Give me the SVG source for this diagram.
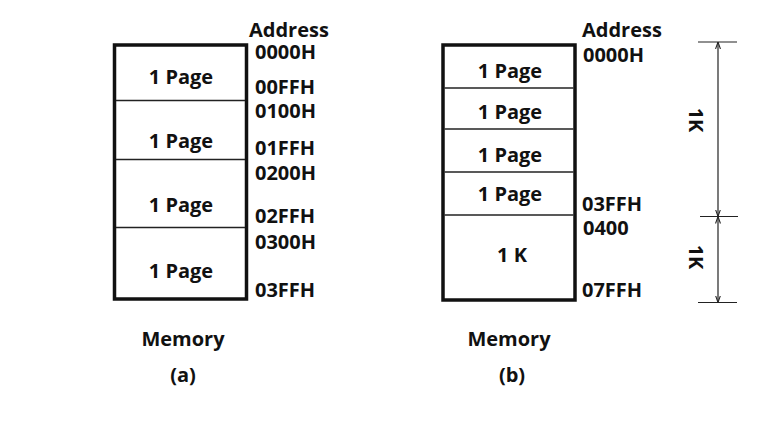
<svg xmlns="http://www.w3.org/2000/svg" width="768" height="432" viewBox="0 0 768 432">
<style>
text{font-family:"Open Sans","Noto Sans","Liberation Sans",sans-serif;font-weight:bold;font-size:20px;fill:#111}
.c{text-anchor:middle}
.frame{fill:none;stroke:#111;stroke-width:3.5}
.div{stroke:#222;stroke-width:1.5}
.dim{stroke:#222;stroke-width:1.2;fill:none}
</style>
<defs>
<marker id="ah" viewBox="0 0 10 10" refX="10" refY="5" markerWidth="7" markerHeight="7" orient="auto-start-reverse" markerUnits="userSpaceOnUse">
<path d="M0,1.5 L10,5 L0,8.5" fill="none" stroke="#222" stroke-width="1.5"/>
</marker>
</defs>
<rect width="768" height="432" fill="#fff"/>

<g id="memA">
<rect class="frame" x="114.5" y="45" width="132" height="254"/>
<line class="div" x1="116" y1="100.5" x2="245" y2="100.5"/>
<line class="div" x1="116" y1="159.5" x2="245" y2="159.5"/>
<line class="div" x1="116" y1="227.5" x2="245" y2="227.5"/>
<text class="c" x="181" y="84">1 Page</text>
<text class="c" x="181" y="148">1 Page</text>
<text class="c" x="181" y="212">1 Page</text>
<text class="c" x="181" y="278">1 Page</text>
</g>
<g id="addrA">
<text x="249" y="37">Address</text>
<text x="255" y="59">0000H</text>
<text x="255" y="94">00FFH</text>
<text x="255" y="118">0100H</text>
<text x="255" y="155">01FFH</text>
<text x="255" y="180">0200H</text>
<text x="255" y="223">02FFH</text>
<text x="255" y="249">0300H</text>
<text x="255" y="297">03FFH</text>
</g>
<g id="captionA">
<text class="c" x="183" y="346">Memory</text>
<text class="c" x="183" y="382">(a)</text>
</g>

<g id="memB">
<rect class="frame" x="443" y="45" width="132" height="255"/>
<line class="div" x1="444.5" y1="88" x2="573.5" y2="88"/>
<line class="div" x1="444.5" y1="129" x2="573.5" y2="129"/>
<line class="div" x1="444.5" y1="172" x2="573.5" y2="172"/>
<line class="div" x1="444.5" y1="215" x2="573.5" y2="215"/>
<text class="c" x="510" y="78">1 Page</text>
<text class="c" x="510" y="119">1 Page</text>
<text class="c" x="510" y="162">1 Page</text>
<text class="c" x="510" y="201">1 Page</text>
<text class="c" x="512" y="262">1 K</text>
</g>
<g id="addrB">
<text x="582" y="37">Address</text>
<text x="583" y="62">0000H</text>
<text x="582" y="211">03FFH</text>
<text x="583" y="235">0400</text>
<text x="582" y="297">07FFH</text>
</g>
<g id="captionB">
<text class="c" x="509" y="346">Memory</text>
<text class="c" x="512" y="382">(b)</text>
</g>

<g id="dimension">
<line class="dim" x1="698" y1="42" x2="737" y2="42"/>
<line class="dim" x1="700" y1="216.5" x2="738" y2="216.5"/>
<line class="dim" x1="698" y1="302.5" x2="737" y2="302.5"/>
<text transform="translate(689,120) rotate(90)" class="c">1K</text>
<text transform="translate(689,257) rotate(90)" class="c">1K</text>
</g>
<g id="connectors">
<line class="dim" x1="718" y1="42" x2="718" y2="216.5" marker-start="url(#ah)" marker-end="url(#ah)"/>
<line class="dim" x1="718" y1="216.5" x2="718" y2="302.5" marker-start="url(#ah)" marker-end="url(#ah)"/>
</g>
</svg>
